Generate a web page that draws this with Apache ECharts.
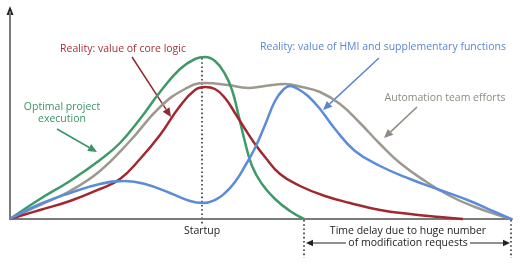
<!DOCTYPE html>
<html><head><meta charset="utf-8">
<script src="https://cdn.jsdelivr.net/npm/echarts@6/dist/echarts.min.js"></script>
<style>html,body{margin:0;padding:0;background:#fff}#c{width:520px;height:264px}</style>
</head><body><div id="c"></div>
<script>
// time positions and effort/value levels
const greenX = [10,40,70,100,120,140,160,180,195,205,215,225,232,238,244,252,262,275,290,304];
const greenY = [0,20,38,59,76,100,127,150,160,162,158,145,129,106,81,53,35,20,8,0];
const grayX = [10,40,70,100,130,160,185,205,228,248,265,285,302,320,340,360,380,400,425,450,475,495,511];
const grayY = [0,14,28,48,78,112,130,136,134,131,133,135,132,127,115,96,75,56,38,23,12,5,0];
const redX = [10,40,70,100,120,140,160,180,195,205,215,225,235,245,255,265,280,300,325,350,380,410,440,463];
const redY = [0,9,18,30,40,60,84,113,129,132,130,121,106,90,75,62,45,33,23,16,9,5,2,0];
const blueX = [10,40,70,100,125,145,170,190,203,215,225,235,245,255,265,275,283,290,298,308,320,335,355,380,410,440,470,495,511];
const blueY = [0,15,26,35,38,35,26,18,16,19,26,37,53,71,94,118,129,133,130,123,110,90,68,53,40,29,18,7,0];

const labels = {
  core: 'Reality: value of core logic',
  optimal1: 'Optimal project',
  optimal2: 'execution',
  hmi: 'Reality: value of HMI and supplementary functions',
  team: 'Automation team efforts',
  startup: 'Startup',
  delay1: 'Time delay due to huge number',
  delay2: 'of modification requests'
};

const C = {green:'#3e9a6a', gray:'#9d998e', red:'#a2282f', blue:'#5b8cd8'};
const FONT = '"Open Sans", sans-serif';

function zip(xs, ys){ return xs.map((x,i)=>[x, ys[i]]); }
function ser(name, xs, ys, color){
  return {name, type:'line', data: zip(xs, ys), smooth:0.45, symbol:'none',
    lineStyle:{color, width:2.5}, silent:true, clip:false};
}
function txt(x, y, text, color, align){
  return {type:'text', x, y, silent:true, style:{text, fill:color, font:'10.5px '+FONT, textAlign:align||'left', textVerticalAlign:'middle'}};
}
function arrow(x1,y1,x2,y2,color,w,head){
  const a = Math.atan2(y2-y1, x2-x1), L = head||8, W = (head||8)*0.45;
  const bx = x2 - L*Math.cos(a), by = y2 - L*Math.sin(a);
  const px = -Math.sin(a)*W, py = Math.cos(a)*W;
  return [
    {type:'line', silent:true, shape:{x1,y1,x2:bx,y2:by}, style:{stroke:color, lineWidth:w||1.5}},
    {type:'polygon', silent:true, shape:{points:[[x2,y2],[bx+px,by+py],[bx-px,by-py]]}, style:{fill:color}}
  ];
}
function dotted(x, y1, y2){
  return {type:'line', silent:true, shape:{x1:x,y1,x2:x,y2}, style:{stroke:'#333', lineWidth:1.6, lineDash:[1.6,2.6]}};
}

const chart = echarts.init(document.getElementById('c'), null, {renderer:'canvas'});
chart.setOption({
  animation:false,
  grid:{left:10, right:8, top:12, bottom:45},
  xAxis:{type:'value', min:10, max:512, axisLine:{show:true, lineStyle:{color:'#7a7a7a', width:2}},
    axisTick:{show:false}, axisLabel:{show:false}, splitLine:{show:false}},
  yAxis:{type:'value', min:0, max:207, axisLine:{show:true, lineStyle:{color:'#7a7a7a', width:2}},
    axisTick:{show:false}, axisLabel:{show:false}, splitLine:{show:false}},
  series:[
    ser('gray', grayX, grayY, C.gray),
    ser('green', greenX, greenY, C.green),
    ser('red', redX, redY, C.red),
    ser('blue', blueX, blueY, C.blue)
  ],
  graphic:[
    {type:'polygon', silent:true, shape:{points:[[10,6],[6.5,15],[13.5,15]]}, style:{fill:'#222'}},
    dotted(202, 58, 226),
    dotted(304, 220, 258),
    dotted(511, 220, 258),
    txt(123, 49, labels.core, '#a4323c', 'center'),
    ...arrow(132, 57, 171, 117, '#8e2a30', 1.5, 9),
    txt(62, 107, labels.optimal1, '#3a9566', 'center'),
    txt(62, 119, labels.optimal2, '#3a9566', 'center'),
    ...arrow(57, 129, 97, 152, '#3a9566', 1.5, 9),
    txt(383, 47, labels.hmi, '#5b87d0', 'center'),
    ...arrow(379, 58, 323, 110, '#5b87d0', 1.5, 9),
    txt(445, 98, labels.team, '#8f8b80', 'center'),
    ...arrow(417, 107, 384, 138, '#8f8b80', 1.5, 9),
    txt(202, 231, labels.startup, '#222', 'center'),
    txt(408, 231, labels.delay1, '#222', 'center'),
    txt(408, 243, labels.delay2, '#222', 'center'),
    ...arrow(346, 243, 306, 243, '#222', 1.2, 7),
    ...arrow(470, 243, 510, 243, '#222', 1.2, 7)
  ]
});
</script></body></html>
